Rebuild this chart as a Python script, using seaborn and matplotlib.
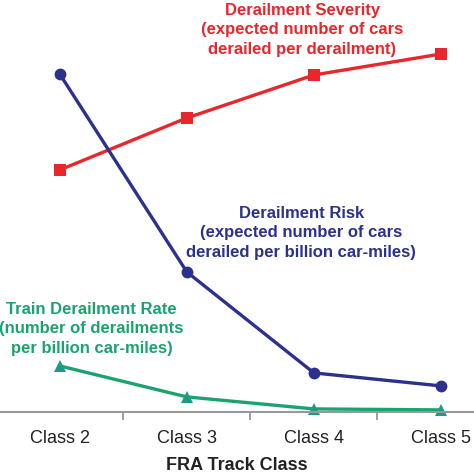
import matplotlib
matplotlib.use("Agg")
import matplotlib.pyplot as plt
import seaborn as sns
import numpy as np
import pandas as pd

classes = ["Class 2", "Class 3", "Class 4", "Class 5"]
severity = [242, 294, 337, 358]
risk = [338, 140, 39, 26]
rate = [46, 15, 3, 2]

sns.set_style("white")
plt.rcParams['font.family'] = ['Liberation Sans', 'DejaVu Sans']

fig = plt.figure(figsize=(4.74, 4.74), dpi=100)
ax = fig.add_axes([0.0, 0.131, 1.0, 0.869])

pos = np.arange(len(classes))
red = "#e8262c"
blue = "#2b318c"
green = "#1aa36e"

sns.lineplot(x=pos, y=severity, ax=ax, color=red, lw=2.4, marker="s",
             markersize=8, markeredgewidth=0, clip_on=False)
sns.lineplot(x=pos, y=risk, ax=ax, color=blue, lw=2.4, marker="o",
             markersize=8.5, markeredgewidth=0, clip_on=False)
sns.lineplot(x=pos, y=rate, ax=ax, color=green, lw=2.4, marker="^",
             markersize=9, markeredgewidth=0, markerfacecolor="#1f9a84",
             clip_on=False)

ax.set_xlim(-0.47, 3.26)
ax.set_ylim(0, 412)
ax.set_yticks([])
ax.set_xticks(pos)
ax.set_xticklabels(classes, fontsize=13, color="#222222")
ax.set_xticks([0.5, 1.5, 2.5], minor=True)
ax.tick_params(axis="x", which="both", bottom=True)
ax.tick_params(axis="x", which="major", length=0, pad=13)
ax.tick_params(axis="x", which="minor", length=6, width=1.3, color="#999999", direction="out")
ax.set_xlabel("FRA Track Class", fontsize=13, fontweight="bold", color="#222222", labelpad=7)

for s in ["left", "right", "top"]:
    ax.spines[s].set_visible(False)
ax.spines["bottom"].set_color("#999999")
ax.spines["bottom"].set_linewidth(1.5)

ls = 1.36
ax.text(1.91, 382, "Derailment Severity\n(expected number of cars\nderailed per derailment)",
        ha="center", va="center", fontsize=12, fontweight="bold", color=red, linespacing=ls)
ax.text(1.90, 179, "Derailment Risk\n(expected number of cars\nderailed per billion car-miles)",
        ha="center", va="center", fontsize=12, fontweight="bold", color=blue, linespacing=ls)
ax.text(0.25, 83, "Train Derailment Rate\n(number of derailments\nper billion car-miles)",
        ha="center", va="center", fontsize=12, fontweight="bold", color=green, linespacing=ls)

fig.savefig("out.png", dpi=100, facecolor="white")
